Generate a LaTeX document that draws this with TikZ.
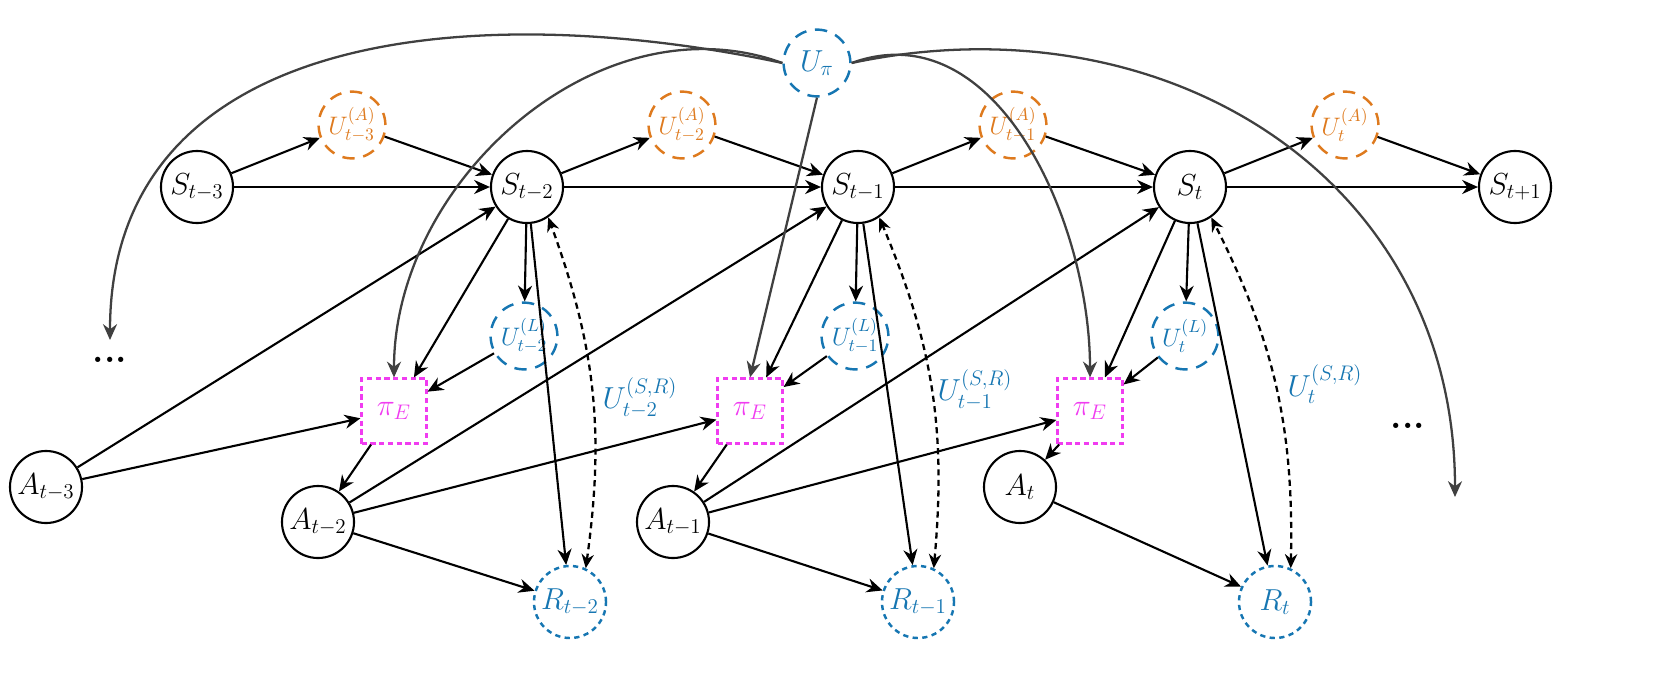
\documentclass[tikz,border=0pt]{standalone}
\usepackage{amsmath}
\usetikzlibrary{arrows.meta}
\definecolor{uorange}{RGB}{222,122,30}
\definecolor{ublue}{RGB}{22,118,178}
\definecolor{umag}{RGB}{240,60,240}
\definecolor{ugray}{RGB}{64,64,64}
\tikzset{
  var/.style={circle, draw, line width=1.2pt, minimum size=41pt, inner sep=0pt, font=\LARGE},
  uact/.style={circle, draw=uorange, text=uorange, dash pattern=on 7pt off 5pt, line width=1.4pt, minimum size=38pt, inner sep=0pt, font=\Large},
  ulat/.style={circle, draw=ublue, text=ublue, dash pattern=on 7pt off 5pt, line width=1.4pt, minimum size=38pt, inner sep=0pt, font=\Large},
  rew/.style={circle, draw=ublue, text=ublue, dash pattern=on 3pt off 2.5pt, line width=1.4pt, minimum size=41pt, inner sep=0pt, font=\LARGE},
  pol/.style={rectangle, draw=umag, text=umag, dash pattern=on 3pt off 2pt, line width=1.2pt, minimum size=37pt, inner sep=0pt, font=\LARGE},
  edge/.style={-{Stealth[length=9pt,width=8pt]}, line width=1.2pt},
  conf/.style={{Stealth[length=8pt,width=7pt]}-{Stealth[length=8pt,width=7pt]}, line width=1.3pt, dash pattern=on 3.5pt off 2.5pt},
  pi/.style={-{Stealth[length=9pt,width=8pt]}, line width=1.3pt, ugray}
}
\begin{document}
\begin{tikzpicture}[x=0.02cm, y=-0.02cm]
    \useasboundingbox (0,0) rectangle (1660,676);

    % States
    \node[var] (s3) at (197,187) {$S_{t-3}$};
    \node[var] (s2) at (527,187) {$S_{t-2}$};
    \node[var] (s1) at (858,187) {$S_{t-1}$};
    \node[var] (s0) at (1190,187) {$S_{t}$};
    \node[var] (sn) at (1515,187) {$S_{t+1}$};

    % Transition noise
    \node[uact] (ua3) at (352,125) {$U^{(A)}_{t-3}$};
    \node[uact] (ua2) at (682,125) {$U^{(A)}_{t-2}$};
    \node[uact] (ua1) at (1013,125) {$U^{(A)}_{t-1}$};
    \node[uact] (ua0) at (1345,125) {$U^{(A)}_{t}$};

    % Policy confounder and latent noise
    \node[ulat, font=\LARGE] (upi) at (817,63) {$U_\pi$};
    \node[ulat] (ul2) at (524,336) {$U^{(L)}_{t-2}$};
    \node[ulat] (ul1) at (855,336) {$U^{(L)}_{t-1}$};
    \node[ulat] (ul0) at (1185,336) {$U^{(L)}_{t}$};

    % Expert policies
    \node[pol] (pe2) at (394,411) {$\pi_E$};
    \node[pol] (pe1) at (750,411) {$\pi_E$};
    \node[pol] (pe0) at (1090,411) {$\pi_E$};

    % Actions
    \node[var] (a3) at (46,487) {$A_{t-3}$};
    \node[var] (a2) at (318,522) {$A_{t-2}$};
    \node[var] (a1) at (673,522) {$A_{t-1}$};
    \node[var] (a0) at (1020,487) {$A_{t}$};

    % Rewards
    \node[rew] (r2) at (570,602) {$R_{t-2}$};
    \node[rew] (r1) at (918,602) {$R_{t-1}$};
    \node[rew] (r0) at (1275,602) {$R_{t}$};

    % Dots
    \node[font=\huge\bfseries] (dl) at (110,360) {...};
    \node[font=\huge\bfseries] (dr) at (1408,426) {...};
    \coordinate (el) at (110,340);
    \coordinate (er) at (1455,497);

    % State chain
    \draw[edge] (s3) -- (s2);
    \draw[edge] (s2) -- (s1);
    \draw[edge] (s1) -- (s0);
    \draw[edge] (s0) -- (sn);
    \draw[edge] (s3) -- (ua3);
    \draw[edge] (ua3) -- (s2);
    \draw[edge] (s2) -- (ua2);
    \draw[edge] (ua2) -- (s1);
    \draw[edge] (s1) -- (ua1);
    \draw[edge] (ua1) -- (s0);
    \draw[edge] (s0) -- (ua0);
    \draw[edge] (ua0) -- (sn);

    % Slice t-2
    \draw[edge] (s2) -- (ul2);
    \draw[edge] (s2) -- (pe2);
    \draw[edge] (ul2) -- (pe2);
    \draw[edge] (s2) -- (r2);
    \draw[edge] (pe2) -- (a2);
    \draw[edge] (a2) -- (r2);
    \draw[edge] (a3) -- (s2);
    \draw[edge] (a3) -- (pe2);
    \draw[conf] (r2.65) to[bend right=14] (s2.-55);
    \node[text=ublue, font=\LARGE] (usr2) at (640,398) {$U^{(S,R)}_{t-2}$};

    % Slice t-1
    \draw[edge] (s1) -- (ul1);
    \draw[edge] (s1) -- (pe1);
    \draw[edge] (ul1) -- (pe1);
    \draw[edge] (s1) -- (r1);
    \draw[edge] (pe1) -- (a1);
    \draw[edge] (a1) -- (r1);
    \draw[edge] (a2) -- (s1);
    \draw[edge] (a2) -- (pe1);
    \draw[conf] (r1.65) to[bend right=14] (s1.-55);
    \node[text=ublue, font=\LARGE] (usr1) at (975,390) {$U^{(S,R)}_{t-1}$};

    % Slice t
    \draw[edge] (s0) -- (ul0);
    \draw[edge] (s0) -- (pe0);
    \draw[edge] (ul0) -- (pe0);
    \draw[edge] (s0) -- (r0);
    \draw[edge] (pe0) -- (a0);
    \draw[edge] (a0) -- (r0);
    \draw[edge] (a1) -- (s0);
    \draw[edge] (a1) -- (pe0);
    \draw[conf] (r0.65) to[bend right=14] (s0.-55);
    \node[text=ublue, font=\LARGE] (usr0) at (1325,384) {$U^{(S,R)}_{t}$};

    % Policy confounder
    \draw[pi] (upi.west) to[out=168,in=90,looseness=1.1] (el);
    \draw[pi] (upi.west) to[out=160,in=90,looseness=1.0] (pe2.north);
    \draw[pi] (upi.south) -- (pe1.north);
    \draw[pi] (upi.east) to[out=20,in=90,looseness=1.0] (pe0.north);
    \draw[pi] (upi.east) to[out=12,in=90,looseness=1.1] (er);
\end{tikzpicture}
\end{document}
